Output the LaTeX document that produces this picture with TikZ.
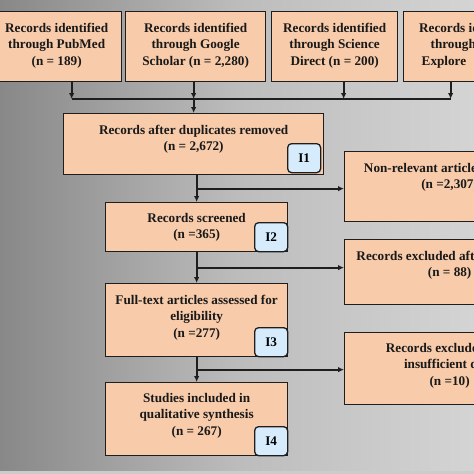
\documentclass[tikz,border=0pt]{standalone}
\usepackage{fontspec}
\setmainfont{Liberation Serif}
\usetikzlibrary{arrows.meta,calc,positioning}
\definecolor{peach}{RGB}{248,203,170}
\definecolor{badge}{RGB}{214,236,252}
\definecolor{edge}{RGB}{30,30,30}
\definecolor{bgleft}{RGB}{136,136,136}
\definecolor{bgmid}{RGB}{188,188,188}
\definecolor{bgright}{RGB}{212,212,212}

\begin{document}
\begin{tikzpicture}[x=1pt, y=-1pt,
        box/.style={draw=edge, line width=1.3pt, fill=peach, anchor=north west, inner sep=0pt},
        txt/.style={font=\fontsize{13.2}{16.5}\selectfont\bfseries, align=center, inner sep=0pt, text=black!90},
        tag/.style={draw=edge, line width=1.3pt, fill=badge, rounded corners=4pt, minimum width=33pt, minimum height=29pt,
            inner sep=0pt, anchor=south east, font=\fontsize{13.2}{16}\selectfont\bfseries},
        arr/.style={line width=1.8pt, draw=edge, -{Latex[length=6pt,width=5.5pt]}},
        line/.style={line width=1.8pt, draw=edge}]
            \useasboundingbox (0,0) rectangle (474,474);
            \clip (0,0) rectangle (474,474);
            \shade[left color=bgleft, right color=bgright, middle color=bgmid] (0,0) rectangle (474,474);
            \fill[bgright!96!black] (0,471) rectangle (474,474);

            % sources
            \node[box, minimum width=130pt, minimum height=70pt] (pm) at (-9,11) {};
            \node[txt, below=12pt of pm.north] (pmt) {Records identified\\through PubMed\\(n = 189)};
            \node[box, minimum width=140pt, minimum height=70pt] (gs) at (125,11) {};
            \node[txt, below=12pt of gs.north] (gst) {Records identified\\through Google\\Scholar (n = 2,280)};
            \node[box, minimum width=126pt, minimum height=70pt] (sd) at (271,11) {};
            \node[txt, below=12pt of sd.north] (sdt) {Records identified\\through Science\\Direct (n = 200)};
            \node[box, minimum width=134pt, minimum height=70pt] (ie) at (403,11) {};
            \node[txt, below=12pt of ie.north] (iet) {Records identified\\through IEEE\\Explore\phantom{ (n = 274)}};

            % main column
            \node[box, minimum width=260pt, minimum height=61pt] (dup) at (63,113) {};
            \node[txt, below=12pt of dup.north] (dupt) {Records after duplicates removed\\(n = 2,672)};
            \node[tag] (i1) at ([shift={(-3,-2)}]dup.south east) {I1};
            \node[box, minimum width=182pt, minimum height=49pt] (scr) at (105,202) {};
            \node[txt, below=11pt of scr.north] (scrt) {Records screened\\(n =365)};
            \node[tag] (i2) at (scr.south east) {I2};
            \node[box, minimum width=182pt, minimum height=73pt] (ft) at (105,283) {};
            \node[txt, below=12pt of ft.north] (ftt) {Full-text articles assessed for\\eligibility\\(n =277)};
            \node[tag] (i3) at (ft.south east) {I3};
            \node[box, minimum width=182pt, minimum height=73pt] (st) at (105,382) {};
            \node[txt, below=11pt of st.north] (stt) {Studies included in\\qualitative synthesis\\(n = 267)};
            \node[tag] (i4) at (st.south east) {I4};

            % exclusions
            \node[box, minimum width=210pt, minimum height=70pt] (nonrel) at (344,151) {};
            \node[txt, below=12pt of nonrel.north] (nonrelt) {Non-relevant articles excluded\\(n =2,307)};
            \node[box, minimum width=210pt, minimum height=65pt] (exaf) at (344,239) {};
            \node[txt, below=12pt of exaf.north] (exaft) {Records excluded after screening\\(n = 88)};
            \node[box, minimum width=210pt, minimum height=72pt] (insuf) at (344,332) {};
            \node[txt, below=11pt of insuf.north] (insuft) {Records excluded with\\insufficient data\\(n =10)};

            % merge of the sources
            \coordinate (bus) at (0,99);
            \coordinate (pmo) at ([xshift=15pt]pm.south);
            \coordinate (gso) at ([xshift=-2pt]gs.south);
            \coordinate (sdo) at ([xshift=9pt]sd.south);
            \coordinate (ieo) at ([xshift=-20pt]ie.south);
            \foreach \s in {pmo,gso,sdo,ieo}
                \draw[arr] (\s) -- (\s |- bus);
            \draw[line] (pmo |- bus) -- (ieo |- bus);
            \draw[arr] (gso |- bus) -- (dup.north);

            % flow down and branches
            \coordinate (j1) at ($(dup.south)!0.5!(scr.north)$);
            \coordinate (j2) at ($(scr.south)!0.5!(ft.north)$);
            \coordinate (j3) at ($(ft.south)!0.5!(st.north)$);
            \draw[arr] (scr.north |- dup.south) -- (scr.north);
            \draw[arr] (scr.north |- j1) -- (j1 -| nonrel.west);
            \draw[arr] (scr.south) -- (ft.north);
            \draw[arr] (j2) -- (j2 -| exaf.west);
            \draw[arr] (ft.south) -- (st.north);
            \draw[arr] (j3) -- (j3 -| insuf.west);
        \end{tikzpicture}
\end{document}
